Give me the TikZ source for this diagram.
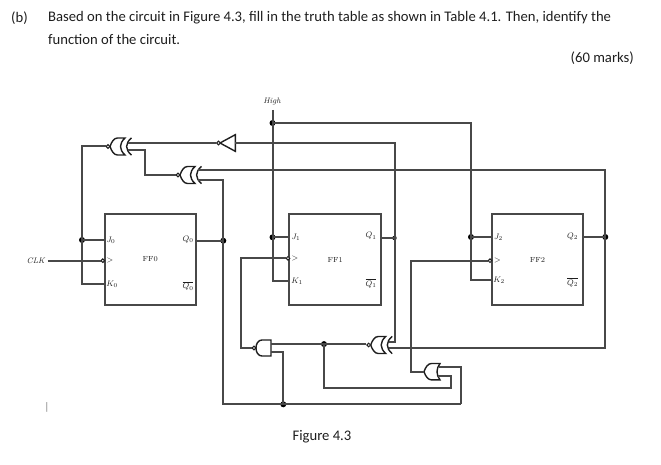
\documentclass[tikz,border=0pt]{standalone}
\usepackage{fontspec}
\newfontfamily\bodyfont{Carlito}
\definecolor{ink}{HTML}{1E1E1E}
\definecolor{linecol}{HTML}{484848}
\tikzset{
  x=1pt,y=-1pt,
  wire/.style={draw=linecol,line width=2pt,line join=miter},
  gateline/.style={draw=ink,line width=1.4pt,line join=miter},
  ffbox/.style={draw=linecol,line width=2pt,minimum width=91.5pt,minimum height=91pt,inner sep=0pt,outer sep=0pt,font=\fontsize{7.4}{8}\selectfont,text=ink},
  pin/.style={inner sep=0pt,font=\fontsize{8}{9}\selectfont,text=ink},
  junction/.style={circle,fill=black,inner sep=0pt,minimum size=6pt},
  smalljunction/.style={circle,fill=black,inner sep=0pt,minimum size=4.4pt},
  bubble/.style={circle,draw=ink,fill=white,line width=1pt,inner sep=0pt,minimum size=3.6pt},
  prose/.style={inner sep=0pt,font=\bodyfont\fontsize{14.65}{17}\selectfont,text=ink},
  pics/xnorgate/.style={code={
    \draw[gateline] (0,0) .. controls (1.5,-4.5) and (4,-8.5) .. (7.5,-8.5) -- (15,-8.5)
       .. controls (9,-3) and (9,3) .. (15,8.5) -- (7.5,8.5)
       .. controls (4,8.5) and (1.5,4.5) .. cycle;
    \draw[gateline] (21.5,-8.7) .. controls (15,-3) and (15,3) .. (21.5,8.7);
    \node[bubble] (-bub) at (-2,0) {};
    \coordinate (-a) at (18,-#1);
    \coordinate (-b) at (18,#1);
  }},
  pics/andgate/.style={code={
    \draw[gateline] (15,-8) -- (6,-8) .. controls (2,-8) and (0,-4) .. (0,0)
       .. controls (0,4) and (2,8) .. (6,8) -- (15,8) -- cycle;
    \node[bubble] (-bub) at (-2,0) {};
    \coordinate (-a) at (15,-#1);
    \coordinate (-b) at (15,#1);
  }},
  pics/orgate/.style={code={
    \draw[gateline] (0,0) .. controls (1.5,-4.5) and (4,-8.2) .. (7.5,-8.2) -- (16,-8.2)
       .. controls (12,-3) and (12,3) .. (16,8.2) -- (7.5,8.2)
       .. controls (4,8.2) and (1.5,4.5) .. cycle;
    \coordinate (-out) at (0,0);
    \coordinate (-a) at (14.5,-4.7);
    \coordinate (-b) at (14,4.3);
  }},
  pics/bufgate/.style={code={
    \draw[gateline] (0,0) -- (15.3,-8.3) -- (15.3,8.3) -- cycle;
    \node[bubble] (-bub) at (-1.5,0) {};
    \coordinate (-in) at (15.3,0);
  }},
}
\begin{document}
\begin{tikzpicture}
\useasboundingbox (0,0) rectangle (661,465);
% text
\node[prose,anchor=west] (tb) at (11,18) {(b)};
\node[prose,anchor=west] (t1) at (48,18) {Based on the circuit in Figure 4.3, fill in the truth table as shown in Table 4.1. Then, identify the};
\node[prose,anchor=west] (t2) at (48,39) {function of the circuit.};
\node[prose,anchor=east] (t3) at (634,58) {(60 marks)};
\node[prose] (figcap) at (322,437) {Figure 4.3};
\node[inner sep=0pt,font=\bodyfont\fontsize{11}{12}\selectfont,text=gray] (cursor) at (47,407) {|};
\node[pin] (hightxt) at (272,102) {\itshape High};
\node[pin,anchor=east] (clktxt) at (45,261) {\itshape CLK};
% flip-flops
\node[ffbox] (ff0) at (150.3,259.5) {FF0};
\node[ffbox] (ff1) at (335.2,259.5) {FF1};
\node[ffbox] (ff2) at (537.5,259.5) {FF2};
% pin texts
\node[pin] (j0t) at (111,240) {$J_0$};
\node[pin] (c0t) at (110,260.5) {$>$};
\node[pin] (k0t) at (112,284) {$K_0$};
\node[pin] (q0t) at (188,239.5) {$Q_0$};
\node[pin] (n0t) at (188,286) {$\overline{Q_0}$};
\node[pin] (j1t) at (296,237.5) {$J_1$};
\node[pin] (c1t) at (295,258.5) {$>$};
\node[pin] (k1t) at (297,281) {$K_1$};
\node[pin] (q1t) at (371,236) {$Q_1$};
\node[pin] (n1t) at (371,283.5) {$\overline{Q_1}$};
\node[pin] (j2t) at (498.5,237) {$J_2$};
\node[pin] (c2t) at (497.5,260.5) {$>$};
\node[pin] (k2t) at (499,280.5) {$K_2$};
\node[pin] (q2t) at (572.5,236.5) {$Q_2$};
\node[pin] (n2t) at (572.5,282.5) {$\overline{Q_2}$};
% gates
\pic (g1) at (110,146.5) {xnorgate=3.5};
\pic (g2) at (180,175) {xnorgate=4.8};
\pic (g3) at (370.7,345) {xnorgate=3.3};
\pic (a1) at (256,348) {andgate=3.9};
\pic (o1) at (424,371.7) {orgate};
\pic (b1) at (220,143) {bufgate};
% clock bubbles
\node[bubble] (cb0) at (102.8,260.7) {};
\node[bubble] (cb1) at (288,258.3) {};
\node[bubble] (cb2) at (490,260.7) {};
% routing points
\coordinate (j0in) at (ff0.west |- 0,240);
\coordinate (k0in) at (ff0.west |- 0,284);
\coordinate (q0out) at (ff0.east |- 0,240.7);
\coordinate (j1in) at (ff1.west |- 0,237.3);
\coordinate (k1in) at (ff1.west |- 0,281);
\coordinate (q1out) at (ff1.east |- 0,238);
\coordinate (j2in) at (ff2.west |- 0,237);
\coordinate (k2in) at (ff2.west |- 0,280.3);
\coordinate (q2out) at (ff2.east |- 0,237);
\coordinate (clkstart) at (47.5,260.7);
\coordinate (hightop) at (272.5,110);
\coordinate (bus1) at (145,160);
\coordinate (q1rail) at (394.5,200);
\coordinate (q2rail) at (605.3,200);
\coordinate (c1rail) at (241,300);
\coordinate (c2rail) at (410.7,300);
\coordinate (jrail) at (471,200);
\coordinate (q0rail) at (223.3,200);
\coordinate (k0rail) at (82,200);
\coordinate (bot) at (460.7,404.3);
\coordinate (loop) at (451.3,387.7);
% junctions
\node[junction] (dj0) at (k0rail |- j0in) {};
\node[junction] (dq0) at (q0rail |- q0out) {};
\node[junction] (dhigh) at (272.5,123) {};
\node[junction] (dj1) at (272.5,237.3) {};
\node[smalljunction] (dq1) at (q1rail |- q1out) {};
\node[junction] (dj2) at (jrail |- j2in) {};
\node[junction] (dq2) at (q2rail |- q2out) {};
\node[junction] (dand) at (324,344.1) {};
\node[junction] (dbot) at (283.3,404.3) {};
% connectors
\draw[wire] (g1-bub.west) -| (k0rail) -- (k0rail |- k0in) -- (k0in);
\draw[wire] (dj0.center) -- (j0in);
\draw[wire] (clkstart) -- (cb0.west);
\draw[wire] (g1-a) -- (b1-bub.west);
\draw[wire] (b1-in) -| (q1rail) -- (q1rail |- g3-a) -- (g3-a);
\draw[wire] (g1-b) -| (bus1) |- (g2-bub.west);
\draw[wire] (g2-a) -| (q2rail) -- (q2rail |- g3-b) -- (g3-b);
\draw[wire] (g2-b) -| (q0rail) -- (q0rail |- bot) -- (bot);
\draw[wire] (q0out) -- (dq0.center);
\draw[wire] (hightop) |- (k1in);
\draw[wire] (dj1.center) -- (j1in);
\draw[wire] (dhigh.center) -| (jrail) -- (jrail |- k2in) -- (k2in);
\draw[wire] (dj2.center) -- (j2in);
\draw[wire] (q1out) -- (dq1.center);
\draw[wire] (q2out) -- (dq2.center);
\draw[wire] (cb1.west) -| (c1rail) |- (a1-bub.west);
\draw[wire] (a1-a) -- (g3-bub.west |- a1-a);
\draw[wire] (a1-b) -| (dbot.center);
\draw[wire] (cb2.west) -| (c2rail) |- (o1-out);
\draw[wire] (bot) |- (o1-a);
\draw[wire] (dand.center) |- (loop) |- (o1-b);
\end{tikzpicture}
\end{document}
